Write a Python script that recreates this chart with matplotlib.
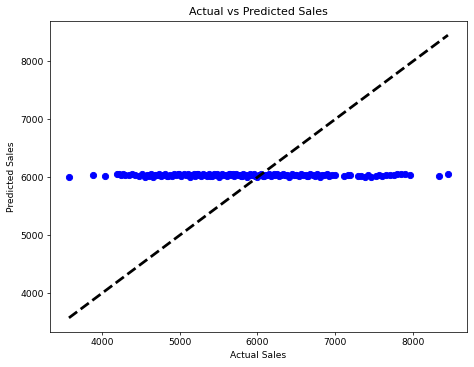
import matplotlib
matplotlib.use("Agg")
import matplotlib.pyplot as plt

# actual vs predicted sales values
actual = [3575, 3890, 4040, 4190, 4215, 4240, 4270, 4300, 4350, 4385, 4420,
          4480, 4520, 4550, 4575, 4600, 4630, 4650, 4680, 4700, 4730, 4760,
          4790, 4810, 4840, 4870, 4900, 4930, 4950, 4980, 5000, 5020, 5050,
          5080, 5100, 5130, 5150, 5180, 5200, 5220, 5250, 5270, 5300, 5320,
          5350, 5370, 5400, 5420, 5440, 5460, 5480, 5500, 5520, 5540, 5560,
          5590, 5610, 5630, 5660, 5680, 5700, 5720, 5750, 5770, 5800, 5820,
          5850, 5870, 5900, 5920, 5950, 5970, 6000, 6020, 6050, 6070, 6100,
          6120, 6150, 6170, 6200, 6230, 6250, 6280, 6300, 6330, 6360, 6380,
          6410, 6440, 6470, 6500, 6530, 6560, 6590, 6620, 6650, 6680, 6710,
          6740, 6770, 6800, 6830, 6860, 6890, 6920, 6960, 7000, 7110, 7160,
          7190, 7290, 7330, 7380, 7420, 7460, 7520, 7560, 7600, 7650, 7700,
          7750, 7800, 7850, 7900, 7960, 8340, 8450,
          4610, 4720, 4850, 4990, 5110, 5240, 5390, 5510, 5650, 5790, 5930,
          6080, 6210, 6350, 6490, 6640, 6780, 6910]
predicted = [6003, 6043, 6026, 6050, 6060, 6045, 6055, 6040, 6030, 6062, 6035,
             6020, 6050, 6005, 6040, 6025, 6055, 6010, 6045, 6030, 6050, 6020,
             6040, 6058, 6025, 6045, 6015, 6050, 6035, 6060, 6040, 6020, 6055,
             6030, 6048, 6010, 6042, 6058, 6025, 6050, 6035, 6015, 6062, 6040,
             6028, 6055, 6045, 6020, 6060, 6035, 6050, 6012, 6045, 6058, 6030,
             6040, 6022, 6055, 6035, 6048, 6015, 6060, 6030, 6045, 6020, 6052,
             6038, 6010, 6048, 6030, 6055, 6025, 6000, 6040, 6050, 6020, 6045,
             6030, 6058, 6015, 6042, 6035, 6050, 6020, 6045, 6060, 6030, 6040,
             6012, 6050, 6035, 6045, 6022, 6055, 6030, 6040, 6015, 6050, 6035,
             6025, 6048, 6010, 6040, 6030, 6052, 6020, 6040, 6030, 6020, 6035,
             6045, 6015, 6020, 6010, 6030, 6005, 6020, 6040, 6015, 6030, 6045,
             6040, 6055, 6060, 6050, 6045, 6015, 6055,
             6035, 6045, 6025, 6052, 6030, 6048, 6020, 6040, 6055, 6028, 6042,
             6018, 6050, 6033, 6046, 6022, 6040, 6030]

fig = plt.figure(figsize=(474 / 66, 367 / 66), dpi=66)
ax = fig.add_axes([0.1055, 0.0954, 0.8795, 0.8474])

ax.scatter(actual, predicted, color="blue", s=46)
lo, hi = min(actual), max(actual)
ax.plot([lo, hi], [lo, hi], "k--", lw=3)

ax.set_xlabel("Actual Sales")
ax.set_ylabel("Predicted Sales")
ax.set_title("Actual vs Predicted Sales")

fig.savefig("out.png", dpi=66)
